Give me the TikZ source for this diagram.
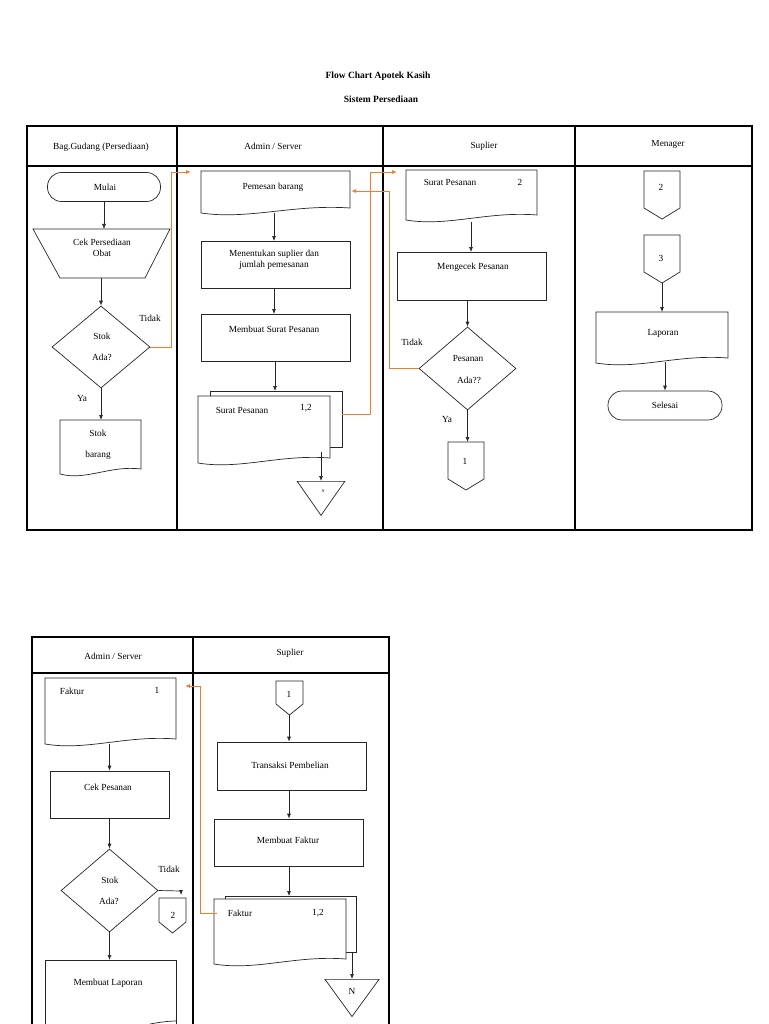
\documentclass[tikz,border=0pt]{standalone}
\usepackage{fontspec}
\setmainfont{Liberation Serif}
\usetikzlibrary{arrows.meta,shapes.geometric}
\definecolor{org}{RGB}{237,125,49}
\newcommand\docu[5]{%
 \draw[shp,fill=white] (#2,#3) -- (#4,#3) -- (#4,#5-9) .. controls ({#2+0.62*(#4-#2)},#5-13) and ({#2+0.32*(#4-#2)},#5+3) .. (#2,#5-4) -- cycle;
 \coordinate (#1) at ({(#2+#4)/2},{(#3+#5)/2});}
\newcommand\offp[5]{%
 \draw[shp] (#2,#3) -- (#4,#3) -- (#4,#5-11) -- ({(#2+#4)/2},#5) -- (#2,#5-11) -- cycle;
 \coordinate (#1) at ({(#2+#4)/2},{(#3+#5)/2});}
\begin{document}
\begin{tikzpicture}[x=1pt,y=-1pt,
 shp/.style={draw=black!85,line width=0.7pt},
 tbl/.style={draw=black,line width=1.2pt},
 t/.style={font=\fontsize{9.3}{11}\selectfont,inner sep=0pt,align=center},
 arr/.style={draw=black!85,line width=0.7pt,-{Latex[length=5pt,width=4pt]}},
 oarr/.style={draw=org,line width=0.9pt,-{Latex[length=5pt,width=4pt]}},
 box/.style={shp,rectangle,inner sep=0pt},
 dia/.style={shp,diamond,inner sep=0pt},
 term/.style={shp,rectangle,rounded corners=14pt,inner sep=0pt}]
\useasboundingbox (0,0) rectangle (768,1024);
\fill[white] (0,0) rectangle (768,1024);
% titles
\node[t,font=\bfseries\fontsize{9.5}{11}\selectfont] (ti1) at (378,76) {Flow Chart Apotek Kasih};
\node[t,font=\bfseries\fontsize{9.5}{11}\selectfont] (ti2) at (381,99) {Sistem Persediaan};
% top table
\draw[tbl] (27,126) rectangle (752,530);
\draw[tbl] (27,166) -- (752,166);
\foreach \x in {177,383,575} \draw[tbl] (\x,126) -- (\x,530);
\node[t] (h1) at (101,147) {Bag.Gudang (Persediaan)};
\node[t] (h2) at (273,146) {Admin / Server};
\node[t] (h3) at (484,146) {Suplier};
\node[t] (h4) at (668,144) {Menager};
% col 1
\node[term,minimum width=113pt,minimum height=29pt] (mulai) at (104,187) {};
\node[t] at (105,187) {Mulai};
\draw[shp] (33,229) -- (170,229) -- (145,278) -- (60,278) -- cycle;
\coordinate (cek-n) at (104,229); \coordinate (cek-s) at (101,278);
\node[t] (cekt) at (102,248) {Cek Persediaan\\Obat};
\node[dia,minimum width=98pt,minimum height=82pt] (stok) at (101,347) {};
\node[t] at (102,336) {Stok}; \node[t] at (102,357) {Ada?};
\node[t] (tid1) at (150,318) {Tidak};
\node[t] (ya1) at (82,398) {Ya};
\docu{sb}{60}{420}{141}{478}
\node[t] at (98,433) {Stok}; \node[t] at (98,455) {barang};
\draw[arr] (mulai.south) -- (cek-n);
\draw[arr] (cek-s) -- (stok.north);
\coordinate (sb-n) at (101,420);
\draw[arr] (stok.south) -- (sb-n);
% col 2
\docu{pb}{201}{171}{350}{217}
\node[t] at (273,187) {Pemesan barang};
\node[box,minimum width=149pt,minimum height=47pt] (mts) at (275.5,264.5) {};
\node[t] at (274,260) {Menentukan suplier dan\\jumlah pemesanan};
\node[box,minimum width=149pt,minimum height=47pt] (msp) at (275.5,337.5) {};
\node[t] at (274,329) {Membuat Surat Pesanan};
\draw[shp,fill=white] (210,391) rectangle (342,447);
\docu{sp}{198}{396}{330}{467}
\node[t] at (242,410) {Surat Pesanan}; \node[t] at (306,408) {1,2};
\node[shp,isosceles triangle,shape border rotate=-90,isosceles triangle apex angle=70,minimum width=47pt,minimum height=34pt,inner sep=0pt,anchor=north] (n1) at (321,481) {};
\node[t,font=\fontsize{4}{5}\selectfont] at (323,491) {N};
\coordinate (pb-s) at (274,213); \coordinate (mts-n) at (274,241);
\draw[arr] (pb-s) -- (mts-n);
\coordinate (mts-s) at (274,288); \coordinate (msp-n) at (274,314);
\draw[arr] (mts-s) -- (msp-n);
\coordinate (msp-s) at (275,361); \coordinate (sp-n) at (275,391);
\draw[arr] (msp-s) -- (sp-n);
\coordinate (sp-s) at (321,452);
\draw[arr] (sp-s) -- (n1.north);
% col 3
\docu{sp2}{406}{170}{537}{224}
\node[t] at (450,182) {Surat Pesanan}; \node[t] at (520,182) {2};
\node[box,minimum width=149pt,minimum height=48pt] (mp) at (471.5,276) {};
\node[t] at (473,267) {Mengecek Pesanan};
\node[dia,minimum width=97pt,minimum height=83pt] (pa) at (467.5,368.5) {};
\node[t] at (468,358) {Pesanan}; \node[t] at (469,380) {Ada??};
\node[t] (tid2) at (412,342) {Tidak};
\node[t] (ya2) at (447,419) {Ya};
\offp{c1}{448}{442}{484}{490}
\node[t] at (465,461) {1};
\coordinate (sp2-s) at (471,222); \coordinate (mp-n) at (471,252);
\draw[arr] (sp2-s) -- (mp-n);
\draw[arr] (mp.south -| pa.north) -- (pa.north);
\coordinate (c1-n) at (467.5,442);
\draw[arr] (pa.south) -- (c1-n);
% col 4
\offp{c2}{644}{171}{680}{219}
\node[t] at (661,187) {2};
\offp{c3}{644}{235}{680}{283}
\node[t] at (661,258) {3};
\docu{lap}{596}{312}{728}{367}
\node[t] at (663,333) {Laporan};
\node[term,minimum width=114pt,minimum height=29pt] (sel) at (665,405.5) {};
\node[t] at (665,405) {Selesai};
\coordinate (c3-s) at (662,283); \coordinate (lap-n) at (662,312);
\draw[arr] (c3-s) -- (lap-n);
\coordinate (lap-s) at (665,362);
\draw[arr] (lap-s) -- (sel.north);
% orange connectors
\coordinate (o1) at (191,172);
\draw[oarr] (stok.east) -| (171,172) -- (o1);
\coordinate (spb) at (342,414); \coordinate (o2) at (397,172);
\draw[oarr] (spb) -| (370,172) -- (o2);
\coordinate (o3) at (351,191);
\draw[oarr] (pa.west) -| (389,191) -- (o3);
% bottom table
\draw[tbl] (32,1024) -- (32,637) -- (389,637) -- (389,1024);
\draw[tbl] (32,673) -- (389,673);
\draw[tbl] (193,637) -- (193,1024);
\node[t] (h5) at (113,656) {Admin / Server};
\node[t] (h6) at (290,653) {Suplier};
\docu{fk}{45}{678}{176}{748}
\node[t] at (72,691) {Faktur}; \node[t] at (157,690) {1};
\node[box,minimum width=119pt,minimum height=47pt] (cp) at (109.5,794.5) {};
\node[t] at (108,787) {Cek Pesanan};
\node[dia,minimum width=97pt,minimum height=83pt] (st2) at (109.5,890.5) {};
\node[t] at (110,880) {Stok}; \node[t] at (109,901) {Ada?};
\node[t] (tid3) at (169,869) {Tidak};
\offp{c4}{159}{898}{186}{933}
\node[t] at (173,915) {2};
\draw[shp] (45,1030) -- (45,960) -- (176,960) -- (176,1030);
\draw[shp] (150,1024) .. controls (160,1022) and (170,1021) .. (176,1021);
\node[t] at (108,983) {Membuat Laporan};
\coordinate (fk-s) at (109.5,744);
\draw[arr] (fk-s) -- (cp.north);
\draw[arr] (cp.south) -- (st2.north);
\coordinate (ml-n) at (109.5,960);
\draw[arr] (st2.south) -- (ml-n);
\coordinate (c4-n) at (181,895);
\draw[arr] (st2.east) -- (181,891) -- (c4-n);
\offp{c5}{276}{681}{303}{715}
\node[t] at (289,694) {1};
\node[box,minimum width=149pt,minimum height=48pt] (tp) at (291.5,766) {};
\node[t] at (290,765) {Transaksi Pembelian};
\node[box,minimum width=149pt,minimum height=47pt] (mf) at (288.5,842.5) {};
\node[t] at (288,840) {Membuat Faktur};
\draw[shp,fill=white] (225,896) rectangle (356,952);
\docu{fk2}{214}{899}{346}{968}
\node[t] at (240,913) {Faktur}; \node[t] at (318,913) {1,2};
\node[shp,isosceles triangle,shape border rotate=-90,isosceles triangle apex angle=72,minimum width=54pt,minimum height=37pt,inner sep=0pt,anchor=north] (n2) at (352,979) {};
\node[t] at (352,991) {N};
\coordinate (c5-s) at (289,715);
\draw[arr] (c5-s) -- (tp.north -| c5-s);
\draw[arr] (tp.south -| c5-s) -- (mf.north -| c5-s);
\coordinate (fk2-n) at (289,896);
\draw[arr] (mf.south -| c5-s) -- (fk2-n);
\coordinate (fk2-b) at (352,952);
\draw[arr] (fk2-b) -- (n2.north);
\coordinate (fk2-w) at (217,913); \coordinate (o4) at (185,686);
\draw[oarr] (fk2-w) -- (200,913) -- (200,686) -- (o4);
\end{tikzpicture}
\end{document}
